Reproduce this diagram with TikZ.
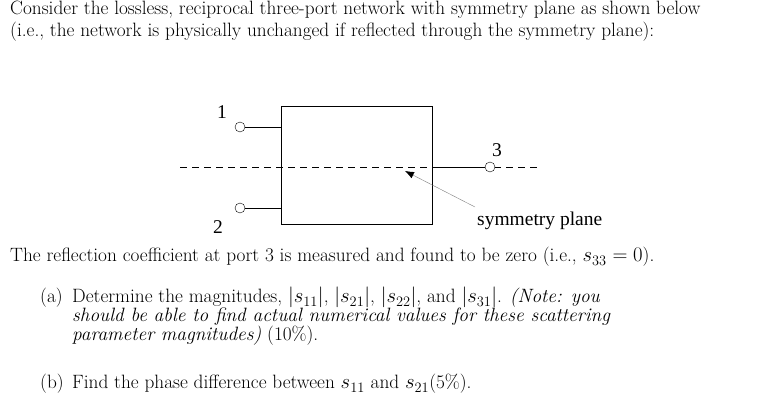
\documentclass[tikz,border=0pt]{standalone}
\usepackage{fontspec}
\usetikzlibrary{arrows.meta}
\newfontfamily\tms{Liberation Serif}
\begin{document}
\begin{tikzpicture}[x=1pt,y=-1pt,
  txt/.style={anchor=base west,inner sep=0,font=\fontsize{19.3}{22}\selectfont},
  lbl/.style={font=\tms\fontsize{19.5}{22}\selectfont,inner sep=0},
  port/.style={circle,draw,minimum size=10pt,inner sep=0,fill=white}]
\useasboundingbox (0,0) rectangle (764,403);
\node[txt] (t1) at (10,15) {Consider the lossless, reciprocal three-port network with symmetry plane as shown below};
\node[txt] (t2) at (10,37) {(i.e., the network is physically unchanged if reflected through the symmetry plane):};
\node[txt] (t3) at (10,262) {The reflection coefficient at port 3 is measured and found to be zero (i.e., $s_{33}=0$).};
\node[txt] (a1) at (40,303) {(a)};
\node[txt] (a2) at (72,303) {Determine the magnitudes, $|s_{11}|$, $|s_{21}|$, $|s_{22}|$, and $|s_{31}|$. \textit{(Note: you}};
\node[txt] (a3) at (72,322) {\textit{should be able to find actual numerical values for these scattering}};
\node[txt] (a4) at (72,341) {\textit{parameter magnitudes)} (10\%).};
\node[txt] (b1) at (40,389) {(b)};
\node[txt] (b2) at (72,389) {Find the phase difference between $s_{11}$ and $s_{21}$(5\%).};
% diagram
\draw[dashed,dash pattern=on 7pt off 5pt] (180,167) -- (432,167);
\draw[dashed,dash pattern=on 7pt off 5pt] (494,167) -- (540,167);
\node[draw,minimum width=151pt,minimum height=118pt,inner sep=0,anchor=north west] (box) at (281,106) {};
\node[port] (p1) at (240,127) {};
\node[port] (p2) at (240,208) {};
\node[port] (p3) at (490,167) {};
\draw (p1) -- (box.west |- p1);
\draw (p2) -- (box.west |- p2);
\draw (box.east |- p3) -- (p3);
\node[lbl] (l1) at (222,112) {1};
\node[lbl] (l2) at (218,227) {2};
\node[lbl] (l3) at (497,150) {3};
\node[lbl,anchor=west] (sp) at (477,221) {symmetry plane};
\coordinate (as) at (475,207);
\draw[gray,-{Latex[black,length=9pt,width=7pt]}] (as) -- (405,171);
\end{tikzpicture}
\end{document}
